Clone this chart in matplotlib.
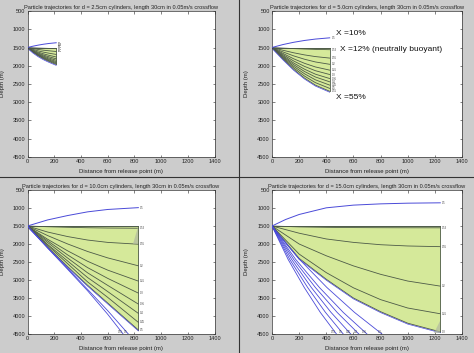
import matplotlib
matplotlib.use("Agg")
import matplotlib.pyplot as plt
from matplotlib.lines import Line2D

plt.rcParams['font.family'] = ['Liberation Sans', 'DejaVu Sans']

#titles of the four panels
titles = ["Particle trajectories for d = 2.5cm cylinders, length 30cm in 0.05m/s crossflow",
          "Particle trajectories for d = 5.0cm cylinders, length 30cm in 0.05m/s crossflow",
          "Particle trajectories for d = 10.0cm cylinders, length 30cm in 0.05m/s crossflow",
          "Particle trajectories for d = 15.0cm cylinders, length 30cm in 0.05m/s crossflow"]

neutral_depth = 1500  # release depth, X=12% stays here

# d = 2.5 cm
x_d25 = [0, 40, 80, 120, 160, 215]
top_d25 = [1500, 1465, 1435, 1410, 1390, 1370]
green_d25 = [[1500, 1508, 1515, 1520, 1525, 1530],
             [1500, 1530, 1554, 1574, 1590, 1610],
             [1500, 1551, 1593, 1627, 1656, 1690],
             [1500, 1570, 1627, 1674, 1713, 1760],
             [1500, 1584, 1652, 1708, 1754, 1810],
             [1500, 1595, 1672, 1735, 1787, 1850],
             [1500, 1604, 1689, 1758, 1816, 1885],
             [1500, 1612, 1703, 1778, 1840, 1915],
             [1500, 1619, 1716, 1795, 1861, 1940],
             [1500, 1626, 1728, 1812, 1881, 1965]]

# d = 5.0 cm
x_d5 = [0, 80, 160, 240, 320, 425]
top_d5 = [1500, 1420, 1357, 1307, 1269, 1235]
green_d5 = [[1500, 1516, 1530, 1542, 1552, 1560],
            [1500, 1575, 1645, 1703, 1749, 1790],
            [1500, 1620, 1730, 1822, 1896, 1960],
            [1500, 1661, 1810, 1934, 2033, 2120],
            [1500, 1692, 1870, 2018, 2136, 2240],
            [1500, 1721, 1925, 2095, 2231, 2350],
            [1500, 1744, 1970, 2158, 2308, 2440],
            [1500, 1768, 2015, 2221, 2386, 2530],
            [1500, 1791, 2060, 2284, 2463, 2620],
            [1500, 1812, 2100, 2340, 2532, 2700]]

# d = 10.0 cm
x_d10 = [0, 150, 300, 450, 600, 830]
top_d10 = [1500, 1332, 1210, 1107, 1041, 990]
green_d10 = [[1500, 1520, 1536, 1548, 1556, 1562],
             [1500, 1667, 1793, 1890, 1955, 2006],
             [1500, 1765, 1998, 2208, 2385, 2606],
             [1500, 1867, 2189, 2480, 2725, 3031],
             [1500, 1910, 2302, 2656, 2954, 3364],
             [1500, 1955, 2389, 2801, 3148, 3669],
             [1500, 2010, 2471, 2932, 3320, 3927],
             [1500, 2035, 2544, 3053, 3481, 4177],
             [1500, 2078, 2627, 3147, 3638, 4389]]
steep_x_d10 = [[0, 150, 300, 450, 600, 716],
               [0, 150, 300, 450, 600, 755]]
steep_y_d10 = [[1500, 2110, 2700, 3300, 3950, 4500],
               [1500, 2100, 2680, 3260, 3850, 4500]]

# d = 15.0 cm
x_d15 = [0, 200, 400, 600, 800, 1000, 1240]
top_x_d15 = [0, 100, 200, 400, 600, 800, 1000, 1240]
top_d15 = [1500, 1320, 1180, 995, 920, 885, 866, 856]
green_d15 = [[1500, 1525, 1537, 1544, 1547, 1549, 1550],
             [1500, 1700, 1860, 1955, 2020, 2055, 2074],
             [1500, 2000, 2327, 2608, 2842, 3029, 3170],
             [1500, 2280, 2795, 3217, 3545, 3778, 3938],
             [1500, 2400, 2980, 3500, 3880, 4200, 4440]]
steep_x_d15 = [[0, 119, 238, 356, 475],
               [0, 131, 263, 394, 525],
               [0, 145, 290, 435, 580],
               [0, 160, 320, 480, 640],
               [0, 175, 350, 525, 700],
               [0, 203, 405, 608, 810]]
steep_y_d15 = [[1500, 2430, 3210, 3900, 4500]] * 6

labels_green = ["0.13", "0.15", "0.2", "0.25", "0.3", "0.35", "0.4", "0.45", "0.5", "0.55"]
labels_steep = ["0.55", "0.5", "0.45", "0.4", "0.35", "0.3"]

fill_col = "#d5e99a"
line_col = "#4d5a48"
blue_col = "#4a4ad8"


def panel(ax, title, xs, top, greens, top_x=None, sx=(), sy=(), stack=False):
    if top_x is None:
        top_x = xs
    bottom = greens[-1]
    ax.fill_between(xs, [neutral_depth] * len(xs), bottom, color=fill_col, lw=0, zorder=1)
    ax.plot([xs[-1], xs[-1]], [neutral_depth, bottom[-1]], color=line_col, lw=0.6, zorder=2)
    ax.plot([xs[0], xs[-1]], [neutral_depth, neutral_depth], color=line_col, lw=0.7, zorder=2)
    ax.plot(top_x, top, color=blue_col, lw=0.7, zorder=3)
    for i, g in enumerate(greens):
        ax.plot(xs, g, color=line_col, lw=0.6, zorder=2)
        if i == len(greens) - 1:
            ax.plot(xs, [v + 25 for v in g], color=blue_col, lw=0.5, zorder=2)
    if stack:
        # labels too crowded: one small column of text
        ax.text(xs[-1] + 12, top[-1] - 20, "\n".join(["0.1"] + labels_green[:len(greens)]),
                fontsize=1.5, va='top', linespacing=0.85, color='#333333')
    else:
        ax.text(top_x[-1] + 15, top[-1], "0.1", fontsize=1.8, va='center', color='#333333')
        for i, g in enumerate(greens):
            ax.text(xs[-1] + 15, g[-1], labels_green[i], fontsize=1.8, va='center', color='#333333')
    for j, (a, b) in enumerate(zip(sx, sy)):
        ax.plot(a, b, color=blue_col, lw=0.6, zorder=3)
        ax.text(a[-1] - 20, 4470, labels_steep[j], fontsize=1.8, ha='center', color='#333333')
    ax.set_xlim(0, 1400)
    ax.set_ylim(4500, 500)
    ax.set_xticks(range(0, 1401, 200))
    ax.set_yticks(range(500, 4501, 500))
    ax.tick_params(direction='in', length=1.8, width=0.4, labelsize=4.1, pad=1.5,
                   top=True, right=True, colors='#222222')
    for s in ax.spines.values():
        s.set_linewidth(0.5)
        s.set_color('#333333')
    ax.set_title(title, fontsize=4.1, pad=1.8, color='#222222')
    ax.set_xlabel("Distance from release point (m)", fontsize=4.3, color='#222222')
    ax.set_ylabel("Depth (m)", fontsize=4.3, color='#222222')
    ax.xaxis.set_label_coords(0.5, -0.085)
    ax.yaxis.set_label_coords(-0.12, 0.5)


fig = plt.figure(figsize=(4.74, 3.53), dpi=100, facecolor='#cccccc')
ax1 = fig.add_axes([27.5 / 474, 1 - 157 / 353, 187 / 474, 146 / 353])
ax2 = fig.add_axes([272 / 474, 1 - 157 / 353, 190 / 474, 146 / 353])
ax3 = fig.add_axes([27.5 / 474, 1 - 334 / 353, 187 / 474, 144 / 353])
ax4 = fig.add_axes([272 / 474, 1 - 334 / 353, 190 / 474, 144 / 353])

panel(ax1, titles[0], x_d25, top_d25, green_d25, stack=True)
panel(ax2, titles[1], x_d5, top_d5, green_d5)
panel(ax3, titles[2], x_d10, top_d10, green_d10, sx=steep_x_d10, sy=steep_y_d10)
panel(ax4, titles[3], x_d15, top_d15, green_d15, top_x=top_x_d15, sx=steep_x_d15, sy=steep_y_d15)

# grey shading near the right edge
ax3.fill([830, 830, 790], [1520, 1990, 1990], color='#b0b8a0', alpha=0.7, lw=0, zorder=2)
ax4.fill([1240, 1240, 1190], [4150, 4470, 4470], color='#b0b8a0', alpha=0.7, lw=0, zorder=2)

# annotations on the 5 cm panel
ax2.text(470, 1150, "X =10%", fontsize=6, color='#111111')
ax2.text(500, 1600, "X =12% (neutrally buoyant)", fontsize=6, color='#111111')
ax2.text(470, 2900, "X =55%", fontsize=6, color='#111111')

# window separators
fig.add_artist(Line2D([239 / 474, 239 / 474], [0, 1], color='#333333', lw=0.8))
fig.add_artist(Line2D([0, 1], [1 - 176.5 / 353, 1 - 176.5 / 353], color='#333333', lw=0.8))

fig.savefig("out.png", dpi=100, facecolor=fig.get_facecolor())
